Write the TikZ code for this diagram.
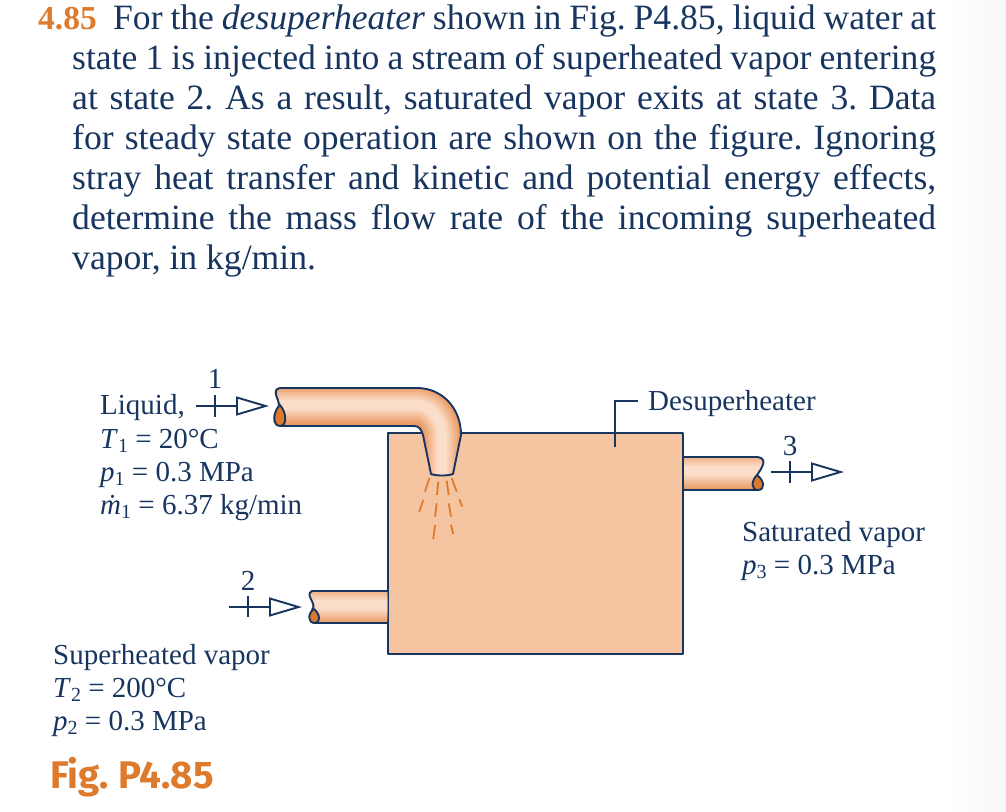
\documentclass[tikz,border=0pt]{standalone}
\usepackage{fontspec}
\setmainfont{Liberation Serif}
\newfontfamily\figfont{Fira Sans}
\usetikzlibrary{arrows.meta}
\frenchspacing
\definecolor{inkblue}{HTML}{17355F}
\definecolor{numorange}{HTML}{DE7A2C}
\definecolor{tankfill}{HTML}{F5C4A0}
\definecolor{pipeedge}{HTML}{E99B66}
\definecolor{pipelight}{HTML}{FBDEC9}
\newcommand{\lowsub}[1]{\raisebox{-0.32ex}{\fontsize{20}{20}\selectfont #1}}
\newcommand{\pipeglow}[1]{%
  \foreach \w/\c in {38/0,34/14,30/28,26/42,22/56,18/70,14/84,10/100}
    \draw[line width=\w pt, pipelight!\c!pipeedge] #1;}
\tikzset{
  para/.style={anchor=base west, inner sep=0pt, text=inkblue, font=\fontsize{35.6}{40}\selectfont},
  lab/.style={anchor=base west, inner sep=0pt, text=inkblue, font=\fontsize{29}{34}\selectfont},
  num/.style={anchor=base, inner sep=0pt, text=inkblue, font=\fontsize{29}{30}\selectfont},
  wall/.style={draw=inkblue, line width=1.9pt, line join=round},
  flow/.style={draw=inkblue, line width=1.9pt, -{Triangle[open, length=33pt, width=19pt, fill=white]}},
  tick/.style={draw=inkblue, line width=1.9pt},
  spray/.style={draw=numorange, line width=1.8pt}
}
\begin{document}
\begin{tikzpicture}[x=1pt,y=-1pt]
\useasboundingbox (0,0) rectangle (1006,811);
\shade [left color=white, right color=black!3] (950,0) rectangle (1006,811);
% problem text
\node [para, text=numorange, font=\fontsize{33.5}{40}\selectfont\bfseries] (num) at (38,29) {4.85};
\node [para] (line1) at (113,29) {\makebox[823pt][s]{For the \textit{desuperheater} shown in Fig. P4.85, liquid water at}};
\node [para] (line2) at (72,69) {\makebox[864pt][s]{state 1 is injected into a stream of superheated vapor entering}};
\node [para] (line3) at (72,109) {\makebox[864pt][s]{at state 2. As a result, saturated vapor exits at state 3. Data}};
\node [para] (line4) at (72,149) {\makebox[864pt][s]{for steady state operation are shown on the figure. Ignoring}};
\node [para] (line5) at (72,189) {\makebox[864pt][s]{stray heat transfer and kinetic and potential energy effects,}};
\node [para] (line6) at (72,229) {\makebox[864pt][s]{determine the mass flow rate of the incoming superheated}};
\node [para] (line7) at (72,269) {vapor, in kg/min.};
% tank
\draw [wall, fill=tankfill] (388,433) rectangle (683,654);
% pipe 2
\begin{scope}
\clip (387,591) -- (312,591) .. controls (304,595) and (318,604) .. (311,611) .. controls (307,617) and (309,623) .. (315,623) -- (387,623) -- cycle;
\fill [pipeedge] (300,585) rectangle (390,630);
\pipeglow{(300,605) -- (390,605)}
\end{scope}
\draw [wall] (388,591) -- (312,591) .. controls (304,595) and (318,604) .. (312,610);
\draw [wall] (388,623) -- (315,623);
\draw [wall, fill=numorange] (314,609) .. controls (308,613) and (307,623) .. (315,623) .. controls (320,623) and (321,615) .. (314,609) -- cycle;
% pipe 3
\begin{scope}
\clip (684,457) -- (758,457) .. controls (768,459) and (762,468) .. (757,475) .. controls (752,482) and (752,490) .. (758,490) -- (684,490) -- cycle;
\fill [pipeedge] (680,450) rectangle (770,495);
\pipeglow{(680,471) -- (770,471)}
\end{scope}
\draw [wall] (683,457) -- (758,457) .. controls (768,459) and (762,468) .. (757,475);
\draw [wall] (683,490) -- (758,490);
\draw [wall, fill=numorange] (757,475) .. controls (751,481) and (751,490) .. (758,490) .. controls (765,490) and (765,481) .. (757,475) -- cycle;
% pipe 1 with nozzle
\begin{scope}
\clip (277,388) -- (417,388) .. controls (442,388) and (461,408) .. (461,435) -- (453,474) .. controls (447,476) and (437,476) .. (431,474) -- (423,435) .. controls (421,429) and (419,426) .. (414,426) -- (280,426) .. controls (276,426) and (273,423) .. (273,418) .. controls (273,413) and (277,410) .. (278,405) .. controls (279,399) and (271,394) .. (277,388) -- cycle;
\fill [pipeedge] (265,380) rectangle (470,480);
\pipeglow{(265,405) -- (417,405) .. controls (431,405) and (442,420) .. (442,436) -- (442,480)}
\end{scope}
\draw [wall] (280,426) -- (414,426) .. controls (419,426) and (421,429) .. (423,435) -- (431,474) .. controls (437,476) and (447,476) .. (453,474) -- (461,435) .. controls (461,408) and (442,388) .. (417,388) -- (280,388) .. controls (271,390) and (279,399) .. (279,405);
\draw [wall, fill=numorange] (280,405) .. controls (273,411) and (272,426) .. (280,426) .. controls (287,426) and (287,413) .. (280,405) -- cycle;
% spray
\foreach \xa/\ya/\xb/\yb in {429.3/478.3/425/491.7, 438.3/481.7/437/495, 446.7/480.7/448.7/495, 451.7/478.3/456.7/491.7, 423.3/500/419.3/511.7, 436.7/503.3/435/516.7, 448.7/503.3/451/516.7, 459.3/499.3/462.3/506.7, 435/525/433.3/539, 451/525/453.3/534}
  \draw [spray] (\xa,\ya) -- (\xb,\yb);
% state 1
\coordinate (a1) at (196,406);
\coordinate (b1) at (269,406);
\coordinate (t1a) at (215,395);
\coordinate (t1b) at (215,417);
\draw [flow] (a1) -- (b1);
\draw [tick] (t1a) -- (t1b);
\node [num] (s1) at (215,388) {1};
% state 2
\coordinate (a2) at (229,607);
\coordinate (b2) at (302,607);
\coordinate (t2a) at (248,596);
\coordinate (t2b) at (248,617);
\draw [flow] (a2) -- (b2);
\draw [tick] (t2a) -- (t2b);
\node [num] (s2) at (248,590) {2};
% state 3
\coordinate (a3) at (771,472);
\coordinate (b3) at (844,472);
\coordinate (t3a) at (790,461);
\coordinate (t3b) at (790,483);
\draw [flow] (a3) -- (b3);
\draw [tick] (t3a) -- (t3b);
\node [num] (s3) at (790,455) {3};
% leader
\node [lab] (desup) at (648,410.5) {Desuperheater};
\coordinate (lead) at (615,447);
\coordinate (leadend) at (638,401);
\draw [tick] (lead) |- (leadend);
% labels
\node [lab] (liq) at (100,414.5) {Liquid,};
\node [lab] (t1) at (100,448) {\textit{T}\lowsub{1} = 20°C};
\node [lab] (p1) at (100,481) {\textit{p}\lowsub{1} = 0.3 MPa};
\node [lab] (m1) at (100,514.5) {\textit{\.m}\lowsub{1} = 6.37 kg/min};
\node [lab] (sup) at (53,664.5) {Superheated vapor};
\node [lab] (t2) at (53,697) {\textit{T}\lowsub{2} = 200°C};
\node [lab] (p2) at (53,730) {\textit{p}\lowsub{2} = 0.3 MPa};
\node [lab] (sat) at (742,541.5) {Saturated vapor};
\node [lab] (p3) at (742,574.5) {\textit{p}\lowsub{3} = 0.3 MPa};
\node [anchor=base west, inner sep=0pt, text=numorange, font=\figfont\fontsize{38.5}{40}\selectfont\bfseries] (fig) at (50,788) {Fig. P4.85};
\end{tikzpicture}
\end{document}
